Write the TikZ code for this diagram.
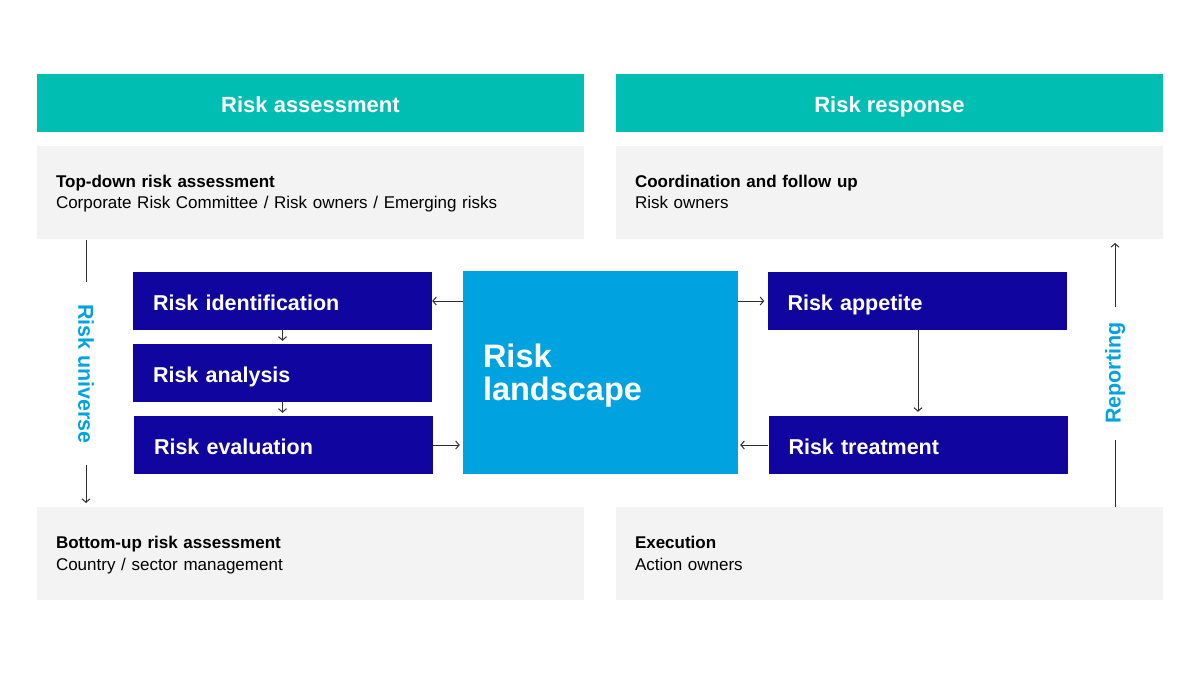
\documentclass[tikz,border=0pt]{standalone}
\usepackage{fontspec}
\setmainfont{Liberation Sans}
\usetikzlibrary{arrows.meta}
\definecolor{teal1}{RGB}{0,190,178}
\definecolor{navy1}{RGB}{16,6,159}
\definecolor{sky1}{RGB}{0,163,224}
\definecolor{grey1}{RGB}{243,243,243}
\definecolor{ink}{RGB}{45,45,45}
\begin{document}
\begin{tikzpicture}[x=1pt,y=-1pt,
 header/.style={fill=teal1, minimum width=547pt, minimum height=58pt, inner sep=0pt, text height=19pt, text depth=0pt, text=white, font=\fontsize{22}{26}\selectfont\bfseries},
 info/.style={fill=grey1, minimum width=547pt, minimum height=93pt, inner xsep=19pt, inner ysep=0pt, text width=509pt, align=left, text height=12.3pt, text depth=21.5pt, font=\fontsize{17}{21.5}\selectfont, text=black},
 stepbox/.style={fill=navy1, minimum width=299pt, minimum height=58pt, inner xsep=20pt, inner ysep=0pt, text width=259pt, align=left, text height=18.4pt, text depth=0pt, text=white, font=\fontsize{21.5}{26}\selectfont\bfseries},
 arr/.style={draw=ink, line width=1pt, -{Straight Barb[length=3.5pt,width=8pt]}},
 plain/.style={draw=ink, line width=1pt},
 side/.style={text=sky1, font=\fontsize{21.5}{26}\selectfont\bfseries, inner sep=0pt},
]
\useasboundingbox[fill=white] (0,0) rectangle (1200,675);

% headers
\node[header] (hA) at (310.5,103) {Risk assessment};
\node[header] (hB) at (889.5,103) {Risk response};

% grey info boxes
\node[info] (td) at (310.5,192) {\textbf{Top-down risk assessment}\\Corporate Risk Committee / Risk owners / Emerging risks};
\node[info] (cf) at (889.5,192) {\textbf{Coordination and follow up}\\Risk owners};
\node[info] (bu) at (310.5,553.5) {\textbf{Bottom-up risk assessment}\\Country / sector management};
\node[info] (ex) at (889.5,553.5) {\textbf{Execution}\\Action owners};

% process boxes
\node[stepbox] (id) at (282.5,301) {Risk identification};
\node[stepbox] (an) at (282.5,373) {Risk analysis};
\node[stepbox] (ev) at (283.5,445) {Risk evaluation};
\node[stepbox] (ap) at (917,301) {Risk appetite};
\node[stepbox] (tr) at (918,445) {Risk treatment};

\node[fill=sky1, minimum width=275pt, minimum height=203pt, inner xsep=20pt, inner ysep=0pt, text width=235pt, align=left, text height=23.3pt, text depth=33pt, text=white, font=\fontsize{32.5}{33}\selectfont\bfseries] (land) at (600.5,372.5) {Risk\\landscape};

% connectors
\draw[arr] (land.west |- id.east) -- (id.east);
\draw[arr] (ev.east) -- ([xshift=-3pt]land.west |- ev.east);
\draw[arr] (land.east |- ap.west) -- ([xshift=-3pt]ap.west);
\draw[arr] (tr.west) -- ([xshift=2pt]land.east |- tr.west);
\draw[arr] (id.south) -- ([yshift=3pt]an.north);
\draw[arr] (an.south) -- ([yshift=3pt]ev.north -| an.south);
\draw[arr] ([xshift=1pt]ap.south) -- ([yshift=4pt]tr.north);

% side labels
\node[side, rotate=-90] (ru) at (86,374) {Risk universe};
\coordinate (ru1) at (86,240);
\coordinate (ru2) at (86,282);
\coordinate (ru3) at (86,465);
\coordinate (ru4) at (86,503);
\draw[plain] (ru1) -- (ru2);
\draw[arr] (ru3) -- (ru4);

\node[side, rotate=90] (rp) at (1115,373) {Reporting};
\coordinate (rp1) at (1115,507);
\coordinate (rp2) at (1115,440);
\coordinate (rp3) at (1115,307);
\coordinate (rp4) at (1115,243);
\draw[plain] (rp1) -- (rp2);
\draw[arr] (rp3) -- (rp4);
\end{tikzpicture}
\end{document}
